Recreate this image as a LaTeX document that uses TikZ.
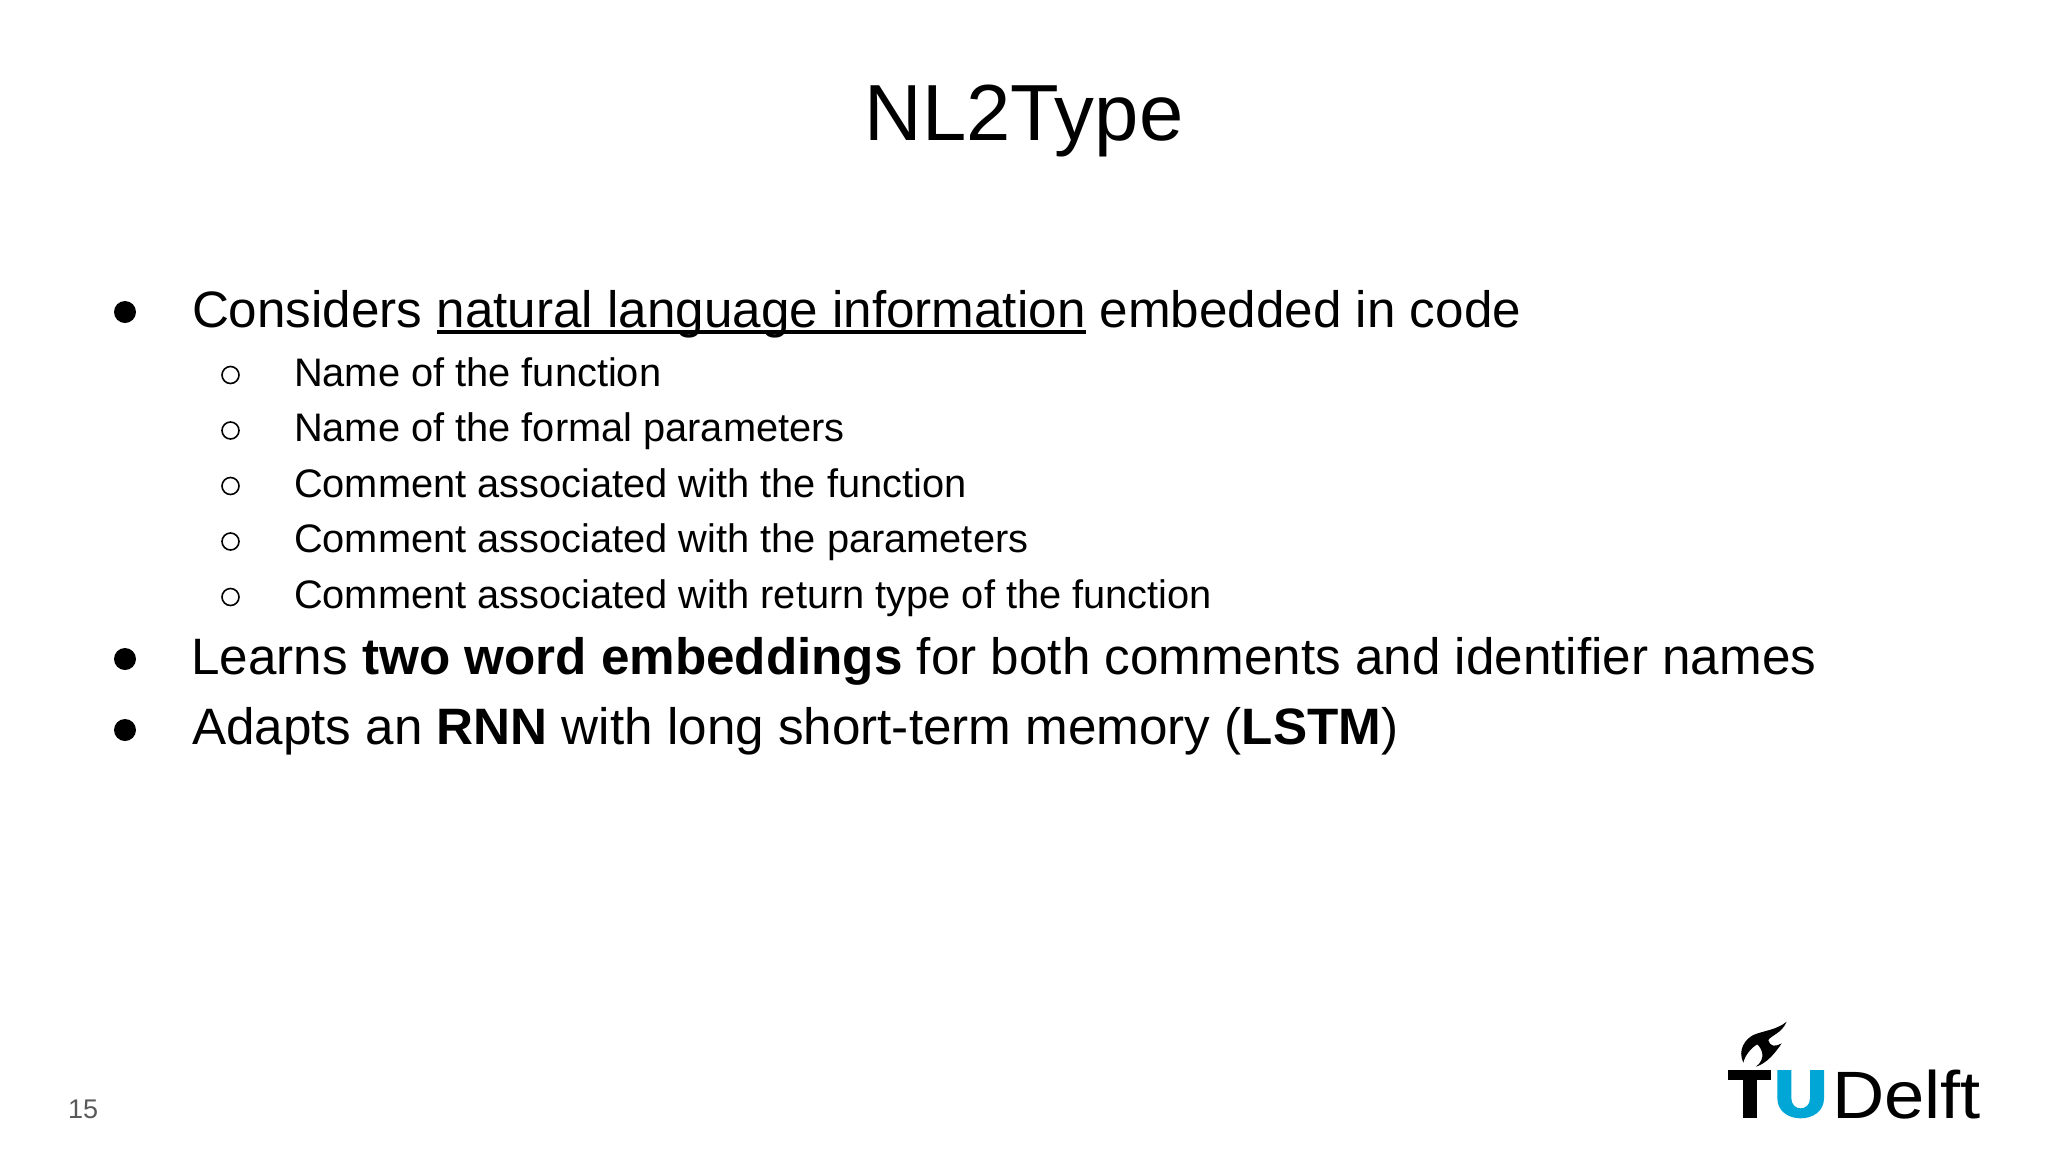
\documentclass[tikz,border=0pt]{standalone}
\usepackage{fontspec}
\setmainfont{Liberation Sans}
\definecolor{tublue}{HTML}{00A6D6}
\definecolor{pagegray}{HTML}{595959}
\newcommand{\myul}[1]{\setbox0\hbox{#1}\rlap{\rule[-7.3pt]{\wd0}{4.2pt}}\box0\relax}
\tikzset{
 base/.style={inner sep=0pt,outer sep=0pt,anchor=base west,text=black},
 main/.style={base,font=\fontsize{51.2}{60}\selectfont},
 sub/.style={base,font=\fontsize{39.8}{48}\selectfont},
 bigdot/.style={circle,fill=black,minimum size=22pt,inner sep=0pt},
 smalldot/.style={circle,draw=black,line width=1.6pt,minimum size=17pt,inner sep=0pt},
}
\begin{document}
\begin{tikzpicture}[x=1pt,y=-1pt]
\useasboundingbox (0,0) rectangle (2048,1152);
\node[base,anchor=base,font=\fontsize{79.6}{90}\selectfont] (title) at (1024,140) {NL2Type};
\node[bigdot] (b1) at (125,312) {};
\node[main] (m1) at (192,327) {Considers \myul{natural language information} embedded in code};
\node[smalldot] (s1) at (230.5,375) {};
\node[sub] (t1) at (294,386) {Name of the function};
\node[smalldot] (s2) at (230.5,430.5) {};
\node[sub] (t2) at (294,441.7) {Name of the formal parameters};
\node[smalldot] (s3) at (230.5,486) {};
\node[sub] (t3) at (294,497) {Comment associated with the function};
\node[smalldot] (s4) at (230.5,541.5) {};
\node[sub] (t4) at (294,552.7) {Comment associated with the parameters};
\node[smalldot] (s5) at (230.5,597) {};
\node[sub] (t5) at (294,608) {Comment associated with return type of the function};
\node[bigdot] (b2) at (125,659) {};
\node[main] (m2) at (191.5,674) {Learns \textbf{two word embeddings} for both comments and identifier names};
\node[bigdot] (b3) at (125,730) {};
\node[main] (m3) at (192,744.5) {Adapts an \textbf{RNN} with long short-term memory (\textbf{LSTM})};
\node[base,font=\fontsize{27}{32}\selectfont,text=pagegray] (page) at (68,1118) {15};
% logo
\begin{scope}[shift={(1700,1000)},x=0.3333pt,y=-0.3333pt]
\fill[black] (85,210) rectangle (212,240);
\fill[black] (128,240) rectangle (170,355);
\fill[tublue] (232,210) -- (274,210) -- (274,295) .. controls (274,335) and (330,335) .. (330,295) -- (330,210) -- (372,210) -- (372,295) .. controls (372,375) and (232,375) .. (232,295) -- cycle;
\fill[black] (260,65) .. controls (230,90) and (190,92) .. (160,105)
  .. controls (135,118) and (112,150) .. (130,188)
  .. controls (135,165) and (155,142) .. (172,133)
  .. controls (185,145) and (200,175) .. (168,200)
  .. controls (200,190) and (225,160) .. (245,130)
  .. controls (225,140) and (212,142) .. (205,120)
  .. controls (215,105) and (245,100) .. (260,65) -- cycle;
\node[base,font=\fontsize{67}{80}\selectfont,xscale=1.08,transform shape] (logo) at (396,355) {Delft};
\end{scope}
\end{tikzpicture}
\end{document}
